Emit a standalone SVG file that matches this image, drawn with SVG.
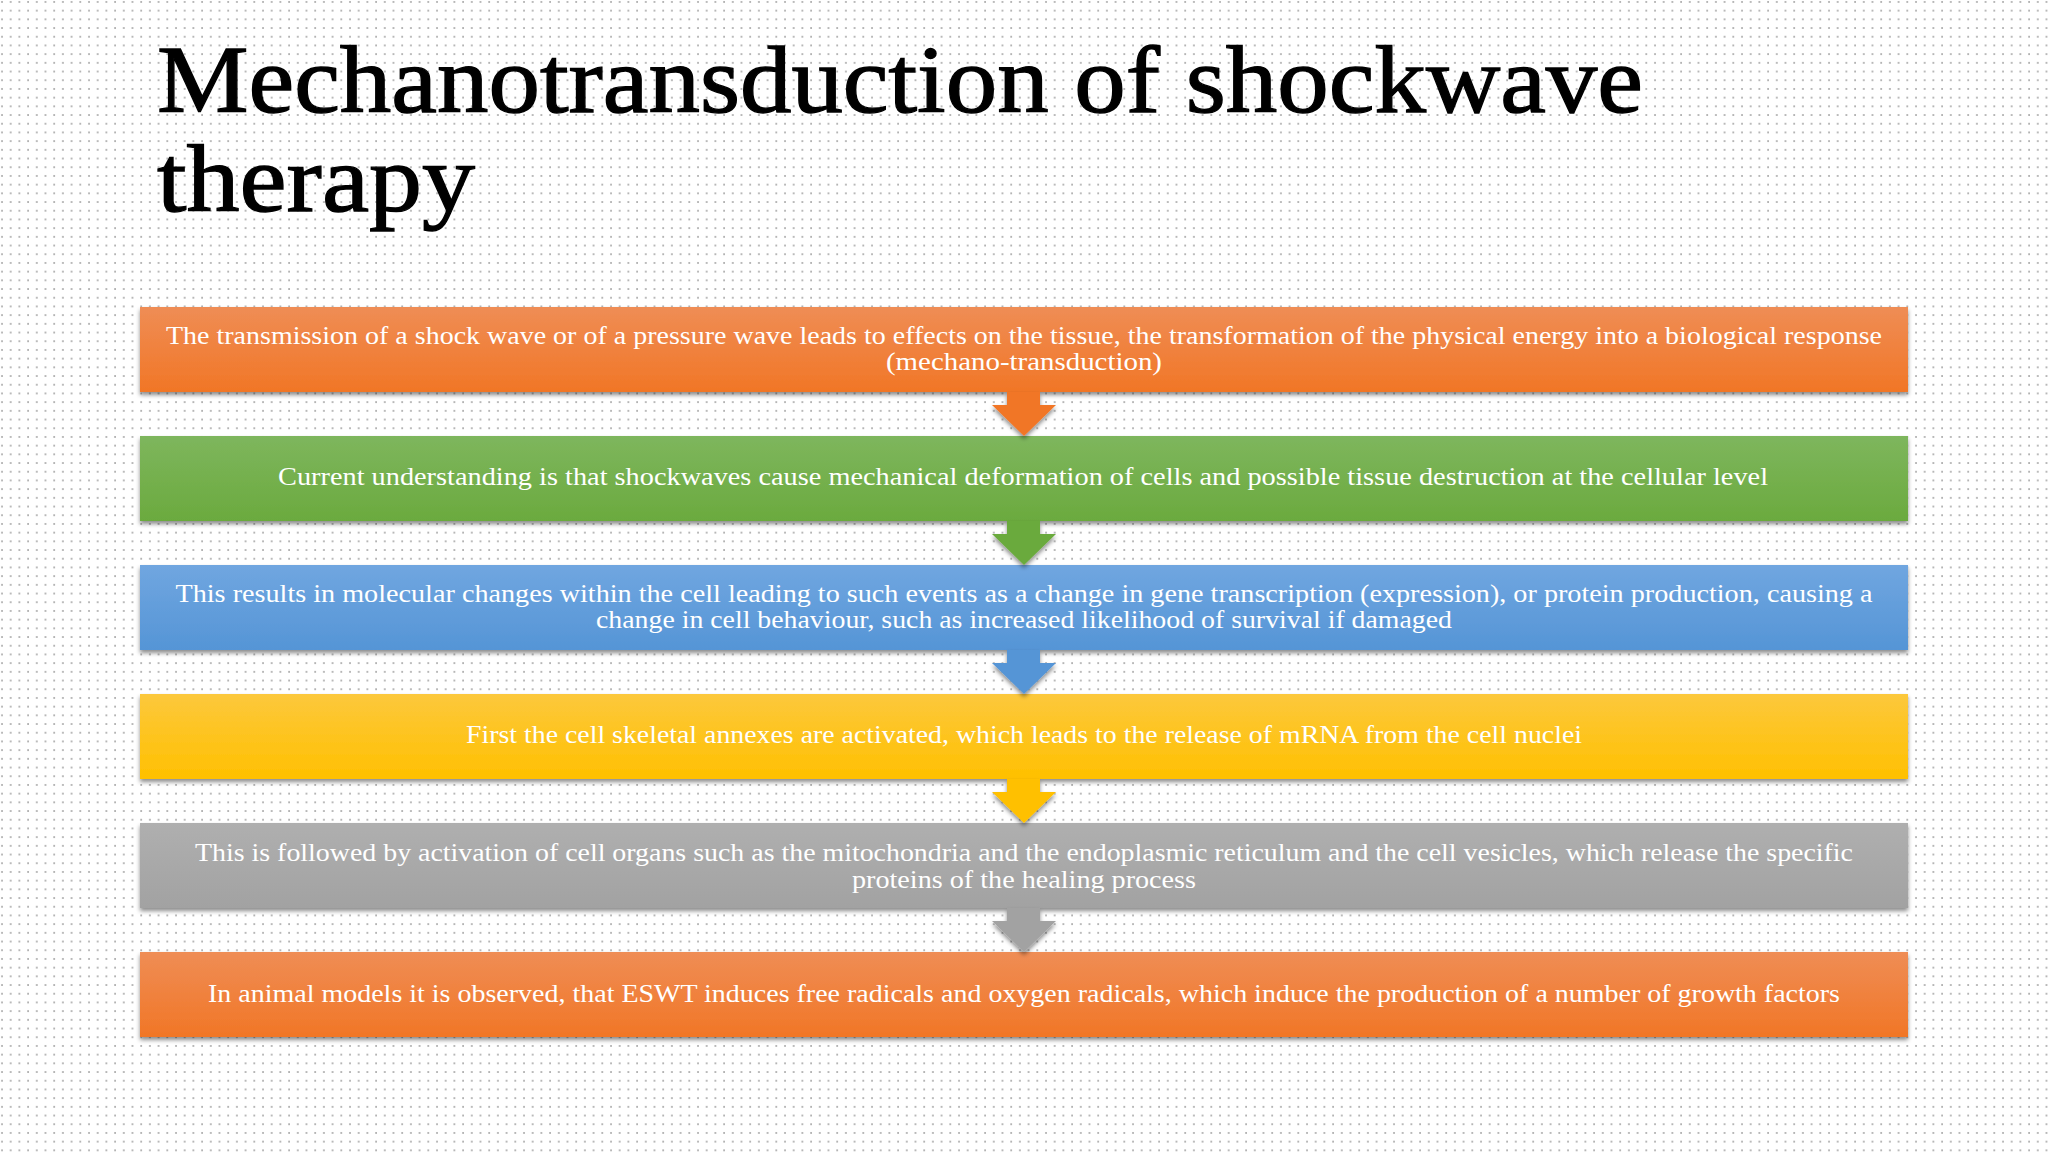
<svg xmlns="http://www.w3.org/2000/svg" width="2048" height="1152" viewBox="0 0 2048 1152">
  <defs>
    <pattern id="dots" x="0" y="0" width="8.7" height="8.7" patternUnits="userSpaceOnUse">
      <circle cx="2" cy="2" r="0.95" fill="#a0a0a0"/>
    </pattern>
    <linearGradient id="gOrange" x1="0" y1="0" x2="0" y2="1">
      <stop offset="0" stop-color="#EF8D55"/>
      <stop offset="1" stop-color="#F17626"/>
    </linearGradient>
    <linearGradient id="gGreen" x1="0" y1="0" x2="0" y2="1">
      <stop offset="0" stop-color="#7EB65D"/>
      <stop offset="1" stop-color="#6BAA3E"/>
    </linearGradient>
    <linearGradient id="gBlue" x1="0" y1="0" x2="0" y2="1">
      <stop offset="0" stop-color="#70A6E0"/>
      <stop offset="1" stop-color="#5595D6"/>
    </linearGradient>
    <linearGradient id="gYellow" x1="0" y1="0" x2="0" y2="1">
      <stop offset="0" stop-color="#FCC83C"/>
      <stop offset="1" stop-color="#FFC000"/>
    </linearGradient>
    <linearGradient id="gGray" x1="0" y1="0" x2="0" y2="1">
      <stop offset="0" stop-color="#AFAFAF"/>
      <stop offset="1" stop-color="#A2A2A2"/>
    </linearGradient>
    <filter id="shadow" x="-5%" y="-20%" width="110%" height="150%">
      <feDropShadow dx="0" dy="3" stdDeviation="2" flood-color="#000" flood-opacity="0.45"/>
    </filter>
  </defs>
  <style>
    .title { font-family: "Liberation Serif", "DejaVu Serif", serif; font-size: 96px; fill: #000; stroke: #000; stroke-width: 1.3px; }
    .lbl { font-family: "Liberation Serif", "DejaVu Serif", serif; font-size: 26px; fill: #FFFFFF; text-anchor: middle; }
    .box { filter: url(#shadow); }
    .arrow { filter: url(#shadow); }
  </style>

  <rect x="0" y="0" width="2048" height="1152" fill="#FFFFFF"/>
  <rect x="0" y="0" width="2048" height="1152" fill="url(#dots)"/>

  <g id="title">
    <text class="title" x="157" y="112" textLength="1486" lengthAdjust="spacingAndGlyphs">Mechanotransduction of shockwave</text>
    <text class="title" x="157" y="211" textLength="318" lengthAdjust="spacingAndGlyphs">therapy</text>
  </g>

  <g id="node1">
    <rect class="box" x="140" y="307" width="1768" height="85" fill="url(#gOrange)"/>
    <text class="lbl" x="1024" y="344" textLength="1716" lengthAdjust="spacingAndGlyphs">The transmission of a shock wave or of a pressure wave leads to effects on the tissue, the transformation of the physical energy into a biological response</text>
    <text class="lbl" x="1024" y="370" textLength="276" lengthAdjust="spacingAndGlyphs">(mechano-transduction)</text>
  </g>

  <g id="node2">
    <rect class="box" x="140" y="436" width="1768" height="85" fill="url(#gGreen)"/>
    <text class="lbl" x="1023" y="485" textLength="1490" lengthAdjust="spacingAndGlyphs">Current understanding is that shockwaves cause mechanical deformation of cells and  possible tissue destruction at the cellular level</text>
  </g>

  <g id="node3">
    <rect class="box" x="140" y="565" width="1768" height="85" fill="url(#gBlue)"/>
    <text class="lbl" x="1024" y="602" textLength="1697" lengthAdjust="spacingAndGlyphs">This results in molecular changes within the cell leading to such events as a change in gene transcription (expression), or protein production, causing a</text>
    <text class="lbl" x="1024" y="628" textLength="856" lengthAdjust="spacingAndGlyphs">change in cell behaviour, such as increased likelihood of survival if damaged</text>
  </g>

  <g id="node4">
    <rect class="box" x="140" y="694" width="1768" height="85" fill="url(#gYellow)"/>
    <text class="lbl" x="1024" y="743" textLength="1116" lengthAdjust="spacingAndGlyphs">First the cell skeletal annexes are activated, which leads to the release of mRNA from the cell nuclei</text>
  </g>

  <g id="node5">
    <rect class="box" x="140" y="823" width="1768" height="85" fill="url(#gGray)"/>
    <text class="lbl" x="1024" y="861" textLength="1658" lengthAdjust="spacingAndGlyphs">This is followed by activation of cell organs such as the mitochondria and the endoplasmic reticulum and the cell vesicles, which release the specific</text>
    <text class="lbl" x="1024" y="888" textLength="344" lengthAdjust="spacingAndGlyphs">proteins of the healing process</text>
  </g>

  <g id="node6">
    <rect class="box" x="140" y="952" width="1768" height="85" fill="url(#gOrange)"/>
    <text class="lbl" x="1024" y="1002" textLength="1632" lengthAdjust="spacingAndGlyphs">In animal models it is observed, that ESWT induces free radicals and oxygen radicals, which induce the production of a number of growth factors</text>
  </g>

  <g id="connectors">
    <path class="arrow" fill="#F17626" d="M1007,392 L1040,392 L1040,405 L1056,405 L1024,436 L992,405 L1007,405 Z"/>
    <path class="arrow" fill="#6BAA3E" d="M1007,521 L1040,521 L1040,534 L1056,534 L1024,565 L992,534 L1007,534 Z"/>
    <path class="arrow" fill="#5595D6" d="M1007,650 L1040,650 L1040,663 L1056,663 L1024,694 L992,663 L1007,663 Z"/>
    <path class="arrow" fill="#FFC000" d="M1007,779 L1040,779 L1040,792 L1056,792 L1024,823 L992,792 L1007,792 Z"/>
    <path class="arrow" fill="#A2A2A2" d="M1007,908 L1040,908 L1040,921 L1056,921 L1024,952 L992,921 L1007,921 Z"/>
  </g>
</svg>
